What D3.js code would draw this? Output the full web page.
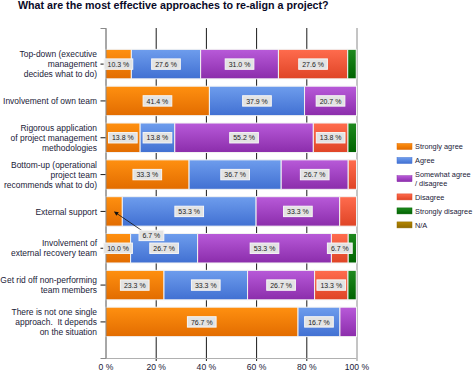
<!DOCTYPE html>
<html><head><meta charset="utf-8">
<script src="https://cdn.jsdelivr.net/npm/d3@7/dist/d3.min.js"></script>
<style>body{margin:0;background:#fff;overflow:hidden}</style>
</head><body>
<svg id="chart" width="473" height="371"></svg>
<script>
// ---- data ----
const title = "What are the most effective approaches to re-align a project?";
const categories = [
  "Top-down (executive\nmanagement\ndecides what to do)",
  "Involvement of own team",
  "Rigorous application\nof project management\nmethodologies",
  "Bottom-up (operational\nproject team\nrecommends what to do)",
  "External support",
  "Involvement of\nexternal recovery team",
  "Get rid off non-performing\nteam members",
  "There is not one single\napproach.  It depends\non the situation"
];
const seriesNames = ["Strongly agree", "Agree", "Somewhat agree\n/ disagree", "Disagree", "Strongly disagree", "N/A"];
const stronglyAgree    = [10.3, 41.4, 13.8, 33.3,  6.7, 10.0, 23.3, 76.7];
const agree            = [27.6, 37.9, 13.8, 36.7, 53.3, 26.7, 33.3, 16.7];
const somewhatAgree    = [31.0, 20.7, 55.2, 26.7, 33.3, 53.3, 26.7,  6.7];
const disagree         = [27.6,  0.0, 13.8,  3.3,  6.7,  6.7, 13.3,  0.0];
const stronglyDisagree = [ 3.4,  0.0,  3.4,  0.0,  0.0,  3.3,  3.3,  0.0];
const notApplicable    = [ 0.0,  0.0,  0.0,  0.0,  0.0,  0.0,  0.0,  0.0];
const xTicks = [0, 20, 40, 60, 80, 100];
// labels shown in addition to values >= 10 : [category index, series index]
const extraLabels = [[5, 3]];
// label drawn as a callout with an arrow : [category index, series index]
const calloutLabels = [[4, 0]];

// ---- styles ----
const seriesValues = [stronglyAgree, agree, somewhatAgree, disagree, stronglyDisagree, notApplicable];
const colors = [
  ["#ff9010", "#e26c00"],
  ["#6e9ded", "#4170d2"],
  ["#b85ad9", "#8b2dab"],
  ["#ff6c4e", "#df4426"],
  ["#1f8a1f", "#006300"],
  ["#b38600", "#8f6a00"]
];
const textColor = "#1a1a38";
const FONT = "'Liberation Sans', Arial, sans-serif";

const svg = d3.select("#chart");
const defs = svg.append("defs");
colors.forEach((c, i) => {
  const g = defs.append("linearGradient").attr("id", "g" + i)
    .attr("x1", 0).attr("y1", 0).attr("x2", 0).attr("y2", 1);
  g.append("stop").attr("offset", "0%").attr("stop-color", c[0]);
  g.append("stop").attr("offset", "100%").attr("stop-color", c[1]);
});

const pLeft = 105.5, pRight = 356.5, pTop = 28, pBottom = 358;

const x = d3.scaleLinear().domain([0, 100]).range([pLeft, pRight]).clamp(true);
const y = d3.scaleBand().domain(d3.range(categories.length)).range([pTop, pBottom])
  .paddingInner(0.2).paddingOuter(0.58);

// rows for stacking
const keys = d3.range(seriesNames.length);
const rows = categories.map((c, i) => {
  const r = {idx: i};
  keys.forEach(k => r[k] = seriesValues[k][i]);
  return r;
});
const stacked = d3.stack().keys(keys)(rows);

function txt(parent, px, py, str, size, anchor, sx, opts = {}) {
  const g = parent.append("g").attr("transform", `translate(${px},${py}) scale(${sx},1)`);
  const t = g.append("text").attr("x", 0).attr("y", 0)
    .attr("font-family", FONT).attr("font-size", size)
    .attr("text-anchor", anchor).attr("fill", opts.fill || textColor)
    .style("white-space", "pre")
    .text(str);
  if (opts.weight) t.attr("font-weight", opts.weight);
  return t;
}

// title
txt(svg, 18, 8.5, title, 10.7, "start", 1, {weight: "bold", fill: "#0a0a28"});

// x axis + gridlines
const xAxis = svg.append("g").attr("transform", `translate(0,361)`)
  .call(d3.axisBottom(x).tickValues(xTicks).tickSize(-(361 - pTop)).tickFormat(d => d + " %"));
xAxis.select(".domain").remove();
xAxis.selectAll(".tick line")
  .attr("stroke", d => (d === 0 || d === 100) ? "#8a8a8a" : "#1a1a1a")
  .attr("y1", d => d === 0 ? -3 : 0);
xAxis.selectAll(".tick text")
  .attr("font-family", FONT).attr("font-size", 8.6).attr("fill", textColor)
  .attr("y", 2.5).attr("dy", "0.71em");

// bottom frame line
svg.append("line").attr("x1", pLeft).attr("x2", pRight).attr("y1", pBottom + 0.5).attr("y2", pBottom + 0.5)
  .attr("stroke", "#b0b0b0");

// bars
const layers = svg.append("g").selectAll("g").data(stacked).join("g")
  .attr("fill", d => `url(#g${d.key})`);
layers.selectAll("rect").data(d => d.filter(v => v[1] - v[0] > 0)).join("rect")
  .attr("x", v => x(v[0]))
  .attr("y", v => y(v.data.idx))
  .attr("width", v => x(v[1]) - x(v[0]))
  .attr("height", y.bandwidth())
  .attr("stroke", "#f2f2f2").attr("stroke-width", 1);

// y axis
const yAxis = svg.append("g").attr("transform", `translate(${pLeft},0)`)
  .call(d3.axisLeft(y).tickSize(5).tickSizeOuter(5).tickFormat(""));
yAxis.select(".domain").attr("stroke", "#8a8a8a");
yAxis.selectAll(".tick line").attr("stroke", "#1a1a1a");

// category labels
categories.forEach((c, i) => {
  const lines = c.split("\n");
  const cy = y(i) + y.bandwidth() / 2;
  lines.forEach((ln, j) => {
    const ly = cy + (j - (lines.length - 1) / 2) * 10 + 3.2;
    txt(svg, 97, ly, ln, 9.2, "end", 0.92);
  });
});

// data labels
function drawLabel(cx, cy, value) {
  const s = value.toFixed(1) + " %";
  const g = svg.append("g");
  const t = txt(g, cx, cy + 2.7, s, 8.1, "middle", 0.86, {fill: "#222"});
  const w = t.node().getComputedTextLength() * 0.86;
  g.insert("rect", ":first-child")
    .attr("x", cx - w / 2 - 3.5).attr("y", cy - 5.2)
    .attr("width", w + 7).attr("height", 10.4)
    .attr("fill", "#e3e3e3").attr("stroke", "#f6f6f6").attr("stroke-width", 1);
}
const isExtra = (i, k) => extraLabels.some(e => e[0] === i && e[1] === k);
const isCallout = (i, k) => calloutLabels.some(e => e[0] === i && e[1] === k);
stacked.forEach(layer => {
  const k = layer.key;
  layer.forEach((v, i) => {
    const val = v[1] - v[0];
    if (val <= 0) return;
    const cx = (x(v[0]) + x(v[1])) / 2;
    const cy = y(i) + y.bandwidth() / 2;
    if (isCallout(i, k)) {
      const lx = cx + 37.5, ly = cy + 24;
      svg.append("line").attr("x1", lx - 9).attr("y1", ly - 4.5)
        .attr("x2", cx + 1).attr("y2", cy + 0.8)
        .attr("stroke", "#111").attr("stroke-width", 0.8);
      const ang = Math.atan2((ly - 4.5) - cy, (lx - 9) - cx);
      const hl = 5, hw = 0.45;
      svg.append("path")
        .attr("d", `M${cx},${cy}L${cx + hl * Math.cos(ang - hw)},${cy + hl * Math.sin(ang - hw)}L${cx + hl * Math.cos(ang + hw)},${cy + hl * Math.sin(ang + hw)}Z`)
        .attr("fill", "#111");
      drawLabel(lx, ly, val);
    } else if (val >= 10 || isExtra(i, k)) {
      drawLabel(cx, cy, val);
    }
  });
});

// legend
let cursor = 146.5;
seriesNames.forEach((name, k) => {
  const lines = name.split("\n");
  const cy = cursor + (lines.length - 1) * 4.2;
  svg.append("rect").attr("x", 397).attr("y", cy - 3).attr("width", 15).attr("height", 6)
    .attr("fill", `url(#g${k})`).attr("stroke", colors[k][1]).attr("stroke-width", 0.5);
  lines.forEach((ln, j) => {
    txt(svg, 415, cursor + j * 8.4 + 2.6, ln, 7.6, "start", 0.97);
  });
  cursor += 14 + (lines.length - 1) * 8.4;
});
</script>
</body></html>
